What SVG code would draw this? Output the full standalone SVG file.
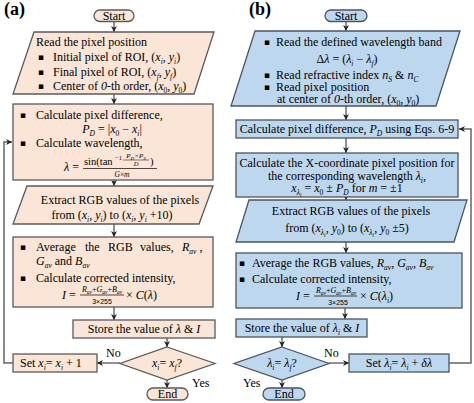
<svg xmlns="http://www.w3.org/2000/svg" width="474" height="403" viewBox="0 0 474 403">
<defs>
<marker id="ah" markerUnits="userSpaceOnUse" markerWidth="7" markerHeight="6" refX="6" refY="3" orient="auto">
<path d="M0,0 L6,3 L0,6 L1.8,3 z" fill="#222"/>
</marker>
<style>
.t{font-family:"Liberation Serif","Times New Roman","DejaVu Serif",serif;font-size:12px;fill:#000}
.c{text-anchor:middle}
.i{font-style:italic}
.s{font-size:7.5px;baseline-shift:-2.5px}
.ss{font-size:5.5px;baseline-shift:-4.5px}
.bu{font-family:"DejaVu Sans",sans-serif;font-size:9px}
.lab{font-family:"Liberation Serif","Times New Roman",serif;font-size:18px;font-weight:bold}
.pe{fill:#FBE5D6;stroke:#5a5a5a;stroke-width:1.3}
.bl{fill:#BDD7EE;stroke:#4a5563;stroke-width:1.3}
.cn{stroke:#222;stroke-width:1;fill:none;marker-end:url(#ah)}
.lp{stroke:#666;stroke-width:1.5;fill:none}
.fr{stroke:#000;stroke-width:0.7}
</style>
</defs>
<rect width="474" height="403" fill="#fff"/>
<text class="lab" x="4" y="15">(a)</text>
<text class="lab" x="249" y="15">(b)</text>

<g id="connectors">
<path class="cn" d="M114 21V32"/>
<path class="cn" d="M114 94V104"/>
<path class="cn" d="M114 180V186"/>
<path class="cn" d="M114 224V237"/>
<path class="cn" d="M114 307V320"/>
<path class="cn" d="M167 338V347"/>
<path class="cn" d="M167 380V388"/>
<path class="cn" d="M120 363H97"/>
<path class="lp" d="M13 363H4V142H12" marker-end="url(#ah)"/>
<path class="cn" d="M346 21V31"/>
<path class="cn" d="M346 106V120"/>
<path class="cn" d="M346 138V153"/>
<path class="cn" d="M346 197V200"/>
<path class="cn" d="M346 242V253"/>
<path class="cn" d="M345 308V319"/>
<path class="cn" d="M282 337V347"/>
<path class="cn" d="M282 380V388"/>
<path class="cn" d="M329 363H349"/>
<path class="lp" d="M449 363H471V129H459" marker-end="url(#ah)"/>
<text class="t" x="106" y="357">No</text>
<text class="t" x="192" y="387">Yes</text>
<text class="t" x="324" y="357">No</text>
<text class="t" x="243" y="387">Yes</text>
</g>

<g id="a-start">
<rect class="pe" x="94" y="10" width="40" height="11.5" rx="5.75"/>
<text class="t c" x="114" y="19.5">Start</text>
</g>

<g id="a-read">
<polygon class="pe" points="34,32 214,32 194,94 13,94"/>
<text class="t" x="36" y="46">Read the pixel position</text>
<text class="t bu" x="38" y="60">▪</text>
<text class="t" x="53" y="61">Initial pixel of ROI, (<tspan class="i">x</tspan><tspan class="s i">i</tspan>, <tspan class="i">y</tspan><tspan class="s i">i</tspan>)</text>
<text class="t bu" x="38" y="75">▪</text>
<text class="t" x="53" y="76">Final pixel of ROI, (<tspan class="i">x</tspan><tspan class="s i">f</tspan>, <tspan class="i">y</tspan><tspan class="s i">f</tspan>)</text>
<text class="t bu" x="38" y="89">▪</text>
<text class="t" x="53" y="90">Center of <tspan class="i">0</tspan>-th order, (<tspan class="i">x</tspan><tspan class="s">0</tspan>, <tspan class="i">y</tspan><tspan class="s">0</tspan>)</text>
</g>

<g id="a-calc">
<rect class="pe" x="13" y="104" width="200" height="76"/>
<text class="t bu" x="20" y="118">▪</text>
<text class="t" x="36" y="119">Calculate pixel difference,</text>
<text class="t c" x="112" y="133"><tspan class="i">P</tspan><tspan class="s i">D</tspan> = |<tspan class="i">x</tspan><tspan class="s">0</tspan> − <tspan class="i">x</tspan><tspan class="s i">i</tspan>|</text>
<text class="t bu" x="20" y="146">▪</text>
<text class="t" x="36" y="147">Calculate wavelength,</text>
<text class="t" x="64" y="171"><tspan class="i">λ</tspan> =</text>
<text class="t" x="84" y="165" style="font-size:10.5px">sin(tan</text>
<text class="t" x="115" y="160" style="font-size:6.5px">−1</text>
<text class="t i c" x="136" y="158" style="font-size:7px">P<tspan style="font-size:5px;baseline-shift:-1.5px">D</tspan>×P<tspan style="font-size:5px;baseline-shift:-1.5px">S</tspan></text>
<line class="fr" x1="123" y1="160" x2="149" y2="160" style="stroke-width:0.5"/>
<text class="t i c" x="136" y="166" style="font-size:6.5px">D</text>
<text class="t" x="150" y="165" style="font-size:10.5px">)</text>
<line class="fr" x1="83" y1="168.5" x2="157" y2="168.5"/>
<text class="t i c" x="122" y="177" style="font-size:7.5px">G<tspan style="font-style:normal">×</tspan>m</text>
</g>

<g id="a-extract">
<polygon class="pe" points="27,186 213,186 199,224 13,224"/>
<text class="t c" x="120" y="204">Extract RGB values of the pixels</text>
<text class="t c" x="112" y="219">from (<tspan class="i">x</tspan><tspan class="s i">i</tspan>, <tspan class="i">y</tspan><tspan class="s i">i</tspan>) to (<tspan class="i">x</tspan><tspan class="s i">i</tspan>, <tspan class="i">y</tspan><tspan class="s i">i</tspan> +10)</text>
</g>

<g id="a-average">
<rect class="pe" x="13" y="237" width="200" height="70"/>
<text class="t bu" x="20" y="250">▪</text>
<text class="t" x="36" y="251">Average</text>
<text class="t" x="85" y="251">the</text>
<text class="t" x="108" y="251">RGB</text>
<text class="t" x="140" y="251">values,</text>
<text class="t" x="182" y="251"><tspan class="i">R</tspan><tspan class="s i">av</tspan> ,</text>
<text class="t" x="36" y="265"><tspan class="i">G</tspan><tspan class="s i">av</tspan> and <tspan class="i">B</tspan><tspan class="s i">av</tspan></text>
<text class="t bu" x="20" y="281">▪</text>
<text class="t" x="36" y="282">Calculate corrected intensity,</text>
<text class="t" x="62" y="299"><tspan class="i">I</tspan> =</text>
<text class="t i c" x="102" y="292" style="font-size:8px">R<tspan style="font-size:5.5px;baseline-shift:-2px">av</tspan><tspan style="font-style:normal">+</tspan>G<tspan style="font-size:5.5px;baseline-shift:-2px">av</tspan><tspan style="font-style:normal">+</tspan>B<tspan style="font-size:5.5px;baseline-shift:-2px">av</tspan></text>
<line class="fr" x1="80" y1="295" x2="124" y2="295"/>
<text class="t c" x="102" y="304" style="font-size:7px;font-family:'Liberation Sans',sans-serif">3×255</text>
<text class="t" x="126" y="299">× <tspan class="i">C</tspan>(<tspan class="i">λ</tspan>)</text>
</g>

<g id="a-store">
<rect class="pe" x="73" y="320" width="142" height="18"/>
<text class="t c" x="144" y="333">Store the value of <tspan class="i">λ</tspan> &amp; <tspan class="i">I</tspan></text>
</g>

<g id="a-decision">
<polygon class="pe" points="167,347 215,363.5 167,380 120,363.5"/>
<text class="t c" x="167" y="367"><tspan class="i">x</tspan><tspan class="s i">i</tspan>= <tspan class="i">x</tspan><tspan class="s i">f</tspan>?</text>
</g>

<g id="a-set">
<rect class="pe" x="13" y="354" width="84" height="18"/>
<text class="t" x="20" y="367">Set <tspan class="i">x</tspan><tspan class="s i">i</tspan>= <tspan class="i">x</tspan><tspan class="s i">i</tspan> + 1</text>
</g>

<g id="a-end">
<rect class="pe" x="147" y="388" width="41" height="12" rx="6"/>
<text class="t c" x="167.5" y="398">End</text>
</g>

<g id="b-start">
<rect class="bl" x="325" y="10" width="42" height="11.5" rx="5.75"/>
<text class="t c" x="346" y="19.5">Start</text>
</g>

<g id="b-read">
<polygon class="bl" points="255,31 460,31 436,106 231,106"/>
<text class="t bu" x="264" y="45">▪</text>
<text class="t" x="276" y="46">Read the defined wavelength band</text>
<text class="t c" x="347" y="63">Δ<tspan class="i">λ</tspan> = (<tspan class="i">λ</tspan><tspan class="s i">i</tspan> − <tspan class="i">λ</tspan><tspan class="s i">f</tspan>)</text>
<text class="t bu" x="264" y="78">▪</text>
<text class="t" x="276" y="79">Read refractive index <tspan class="i">n</tspan><tspan class="s i">S</tspan> &amp;  <tspan class="i">n</tspan><tspan class="s i">C</tspan></text>
<text class="t bu" x="264" y="90">▪</text>
<text class="t" x="276" y="91">Read pixel position</text>
<text class="t" x="277" y="103">at center of <tspan class="i">0</tspan>-th order, (<tspan class="i">x</tspan><tspan class="s">0</tspan>, <tspan class="i">y</tspan><tspan class="s">0</tspan>)</text>
</g>

<g id="b-pd">
<rect class="bl" x="236" y="120" width="222" height="18"/>
<text class="t c" x="347" y="133">Calculate pixel difference, <tspan class="i">P</tspan><tspan class="s i">D</tspan> using Eqs. 6-9</text>
</g>

<g id="b-xcoord">
<rect class="bl" x="236" y="153" width="222" height="44"/>
<text class="t c" x="347" y="167">Calculate the X-coordinate pixel position for</text>
<text class="t c" x="347" y="180">the corresponding wavelength <tspan class="i">λ</tspan><tspan class="s i">i</tspan>,</text>
<text class="t c" x="347" y="192"><tspan class="i">x</tspan><tspan class="s i">λ</tspan><tspan class="ss i">i</tspan> = <tspan class="i">x</tspan><tspan class="s">0</tspan> ± <tspan class="i">P</tspan><tspan class="s i">D</tspan> for <tspan class="i">m</tspan> = ±1</text>
</g>

<g id="b-extract">
<polygon class="bl" points="249,200 467,200 454,242 236,242"/>
<text class="t c" x="351" y="215">Extract RGB values of the pixels</text>
<text class="t c" x="347" y="232">from (<tspan class="i">x</tspan><tspan class="s i">λ</tspan><tspan class="ss i">i</tspan>, <tspan class="i">y</tspan><tspan class="s">0</tspan>) to (<tspan class="i">x</tspan><tspan class="s i">λ</tspan><tspan class="ss i">i</tspan>, <tspan class="i">y</tspan><tspan class="s">0</tspan>  ±5)</text>
</g>

<g id="b-average">
<rect class="bl" x="236" y="253" width="226" height="55"/>
<text class="t bu" x="239" y="266">▪</text>
<text class="t" x="252" y="267">Average the RGB values, <tspan class="i">R</tspan><tspan class="s i">av</tspan>, <tspan class="i">G</tspan><tspan class="s i">av</tspan>,  <tspan class="i">B</tspan><tspan class="s i">av</tspan></text>
<text class="t bu" x="239" y="282">▪</text>
<text class="t" x="252" y="283">Calculate corrected intensity,</text>
<text class="t" x="296" y="300"><tspan class="i">I</tspan> =</text>
<text class="t i c" x="336" y="293" style="font-size:8px">R<tspan style="font-size:5.5px;baseline-shift:-2px">av</tspan><tspan style="font-style:normal">+</tspan>G<tspan style="font-size:5.5px;baseline-shift:-2px">av</tspan><tspan style="font-style:normal">+</tspan>B<tspan style="font-size:5.5px;baseline-shift:-2px">av</tspan></text>
<line class="fr" x1="314" y1="296" x2="357" y2="296"/>
<text class="t c" x="338" y="305" style="font-size:7px;font-family:'Liberation Sans',sans-serif">3×255</text>
<text class="t" x="360" y="300">× <tspan class="i">C</tspan>(<tspan class="i">λ</tspan><tspan class="s i">i</tspan>)</text>
</g>

<g id="b-store">
<rect class="bl" x="236" y="319" width="131" height="18"/>
<text class="t c" x="302" y="332">Store the value of <tspan class="i">λ</tspan><tspan class="s i">i</tspan> &amp; <tspan class="i">I</tspan></text>
</g>

<g id="b-decision">
<polygon class="bl" points="282,347 329,363.5 282,380 234,363.5"/>
<text class="t c" x="282" y="367"><tspan class="i">λ</tspan><tspan class="s i">i</tspan>= <tspan class="i">λ</tspan><tspan class="s i">f</tspan>?</text>
</g>

<g id="b-set">
<rect class="bl" x="349" y="354" width="100" height="18"/>
<text class="t c" x="399" y="367">Set <tspan class="i">λ</tspan><tspan class="s i">i</tspan>= <tspan class="i">λ</tspan><tspan class="s i">i</tspan> + <tspan class="i">δλ</tspan></text>
</g>

<g id="b-end">
<rect class="bl" x="263" y="388" width="42" height="12" rx="6"/>
<text class="t c" x="284" y="398">End</text>
</g>
</svg>
